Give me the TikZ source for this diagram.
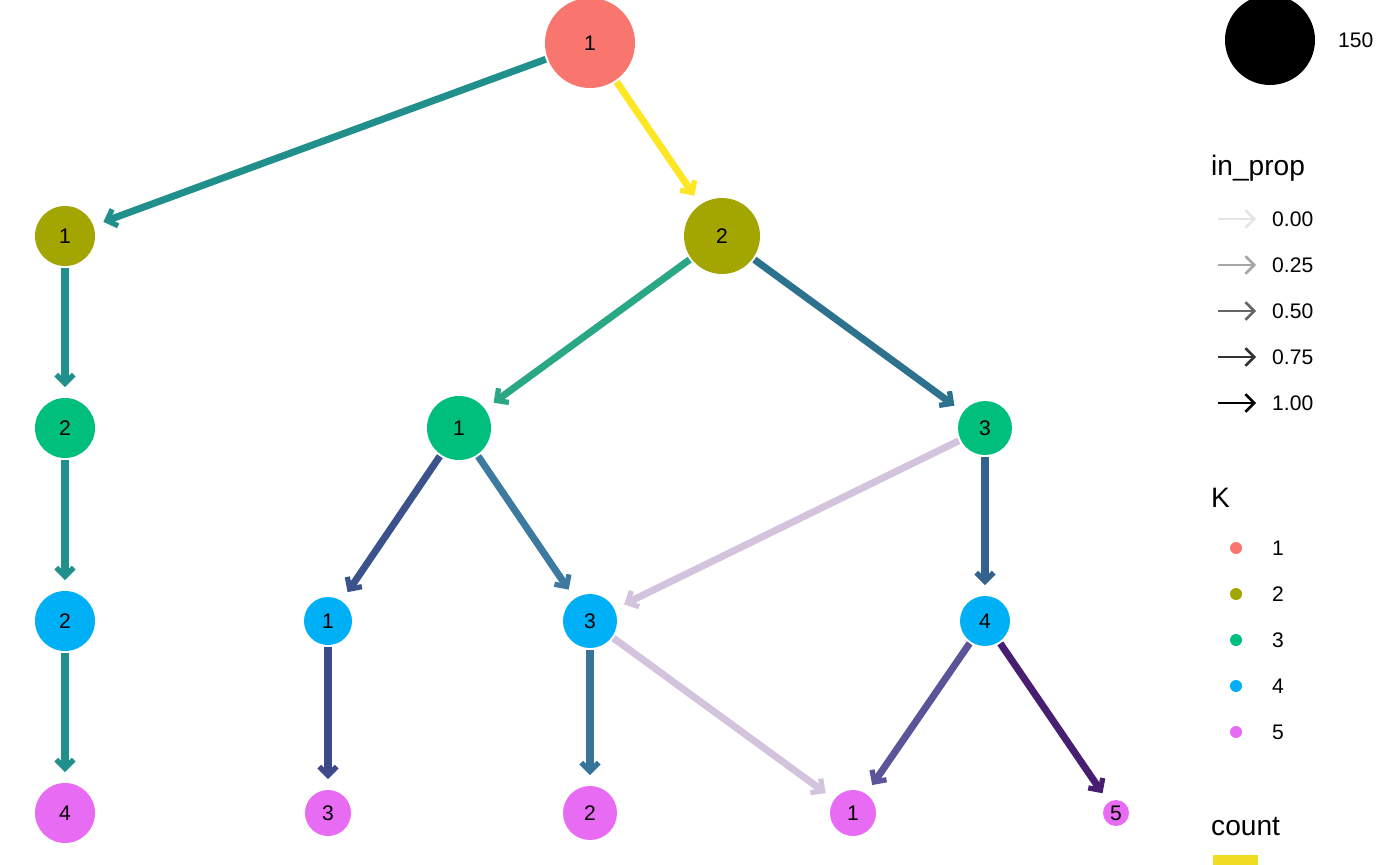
\documentclass[tikz,border=0pt]{standalone}
\usepackage{fontspec}
\setmainfont{Liberation Sans}
\usetikzlibrary{arrows.meta}
\definecolor{kone}{HTML}{F8766D}
\definecolor{ktwo}{HTML}{A3A500}
\definecolor{kthree}{HTML}{00BF7D}
\definecolor{kfour}{HTML}{00B0F6}
\definecolor{kfive}{HTML}{E76BF3}
\definecolor{vteal}{HTML}{21908C}
\definecolor{vyellow}{HTML}{FDE725}
\definecolor{vgreen}{HTML}{2AA784}
\definecolor{vblue}{HTML}{2C728E}
\definecolor{vblue2}{HTML}{33638D}
\definecolor{vindigo}{HTML}{3B528B}
\definecolor{vindigo2}{HTML}{3E4A89}
\definecolor{vsteel}{HTML}{3E7AA0}
\definecolor{vsteel2}{HTML}{38749A}
\definecolor{vpurple}{HTML}{481F70}
\definecolor{vlav}{HTML}{D3C3DC}
\definecolor{vmauve}{HTML}{5C5499}

\begin{document}
\begin{tikzpicture}[x=0.02cm,y=-0.02cm,
    clnode/.style={circle,inner sep=0pt,font=\fontsize{12}{14}\selectfont},
    edge/.style={line width=4pt,-{Straight Barb[length=5pt,width=10pt,line width=3pt]},shorten >=6pt,shorten <=1pt},
    legtitle/.style={anchor=west,font=\fontsize{16}{18}\selectfont},
    leglabel/.style={anchor=west,font=\fontsize{12}{14}\selectfont}]
    \useasboundingbox (0,0) rectangle (1400,865);

    % Tree nodes
    \node[clnode,fill=kone,minimum size=90*0.02cm] (a1) at (590,43) {1};
    \node[clnode,fill=ktwo,minimum size=60*0.02cm] (b1) at (65,236) {1};
    \node[clnode,fill=ktwo,minimum size=76*0.02cm] (b2) at (722,236) {2};
    \node[clnode,fill=kthree,minimum size=60*0.02cm] (c1) at (65,428) {2};
    \node[clnode,fill=kthree,minimum size=64*0.02cm] (c2) at (459,428) {1};
    \node[clnode,fill=kthree,minimum size=54*0.02cm] (c3) at (985,428) {3};
    \node[clnode,fill=kfour,minimum size=60*0.02cm] (d1) at (65,621) {2};
    \node[clnode,fill=kfour,minimum size=48*0.02cm] (d2) at (328,621) {1};
    \node[clnode,fill=kfour,minimum size=54*0.02cm] (d3) at (590,621) {3};
    \node[clnode,fill=kfour,minimum size=50*0.02cm] (d4) at (985,621) {4};
    \node[clnode,fill=kfive,minimum size=60*0.02cm] (e1) at (65,813) {4};
    \node[clnode,fill=kfive,minimum size=46*0.02cm] (e2) at (328,813) {3};
    \node[clnode,fill=kfive,minimum size=54*0.02cm] (e3) at (590,813) {2};
    \node[clnode,fill=kfive,minimum size=46*0.02cm] (e4) at (853,813) {1};
    \node[clnode,fill=kfive,minimum size=26*0.02cm] (e5) at (1116,813) {5};

    % Edges
    \draw[edge,vteal] (a1) -- (b1);
    \draw[edge,vyellow] (a1) -- (b2);
    \draw[edge,vteal] (b1) -- (c1);
    \draw[edge,vgreen] (b2) -- (c2);
    \draw[edge,vblue] (b2) -- (c3);
    \draw[edge,vteal] (c1) -- (d1);
    \draw[edge,vindigo] (c2) -- (d2);
    \draw[edge,vsteel] (c2) -- (d3);
    \draw[edge,vlav] (c3) -- (d3);
    \draw[edge,vblue2] (c3) -- (d4);
    \draw[edge,vteal] (d1) -- (e1);
    \draw[edge,vindigo2] (d2) -- (e2);
    \draw[edge,vsteel2] (d3) -- (e3);
    \draw[edge,vlav] (d3) -- (e4);
    \draw[edge,vmauve] (d4) -- (e4);
    \draw[edge,vpurple] (d4) -- (e5);

    % Legend
    \node[circle,fill=black,minimum size=90*0.02cm,inner sep=0pt] (sz) at (1270,40) {};
    \node[leglabel] (szl) at (1332,40) {150};
    \node[legtitle] (tprop) at (1205,168) {in\_prop};
    \foreach \v/\g [count=\i] in {0.00/10,0.25/35,0.50/60,0.75/80,1.00/100} {
        \coordinate (ps\i) at (1218,173+46*\i);
        \coordinate (pe\i) at (1256,173+46*\i);
        \draw[black!\g,line width=1.5pt,-{Straight Barb[length=5pt,width=10pt,line width=1.5pt]}] (ps\i) -- (pe\i);
        \node[leglabel] (pl\i) at (1266,173+46*\i) {\v};
    }
    \node[legtitle] (tk) at (1205,498) {K};
    \foreach \c [count=\i] in {kone,ktwo,kthree,kfour,kfive} {
        \node[circle,fill=\c,minimum size=12*0.02cm,inner sep=0pt] (kd\i) at (1236,502+46*\i) {};
        \node[leglabel] (kl\i) at (1266,502+46*\i) {\i};
    }
    \node[legtitle] (tc) at (1205,827) {count};
    \fill[vyellow!95!black] (1213,855) rectangle (1258,865);
\end{tikzpicture}
\end{document}
